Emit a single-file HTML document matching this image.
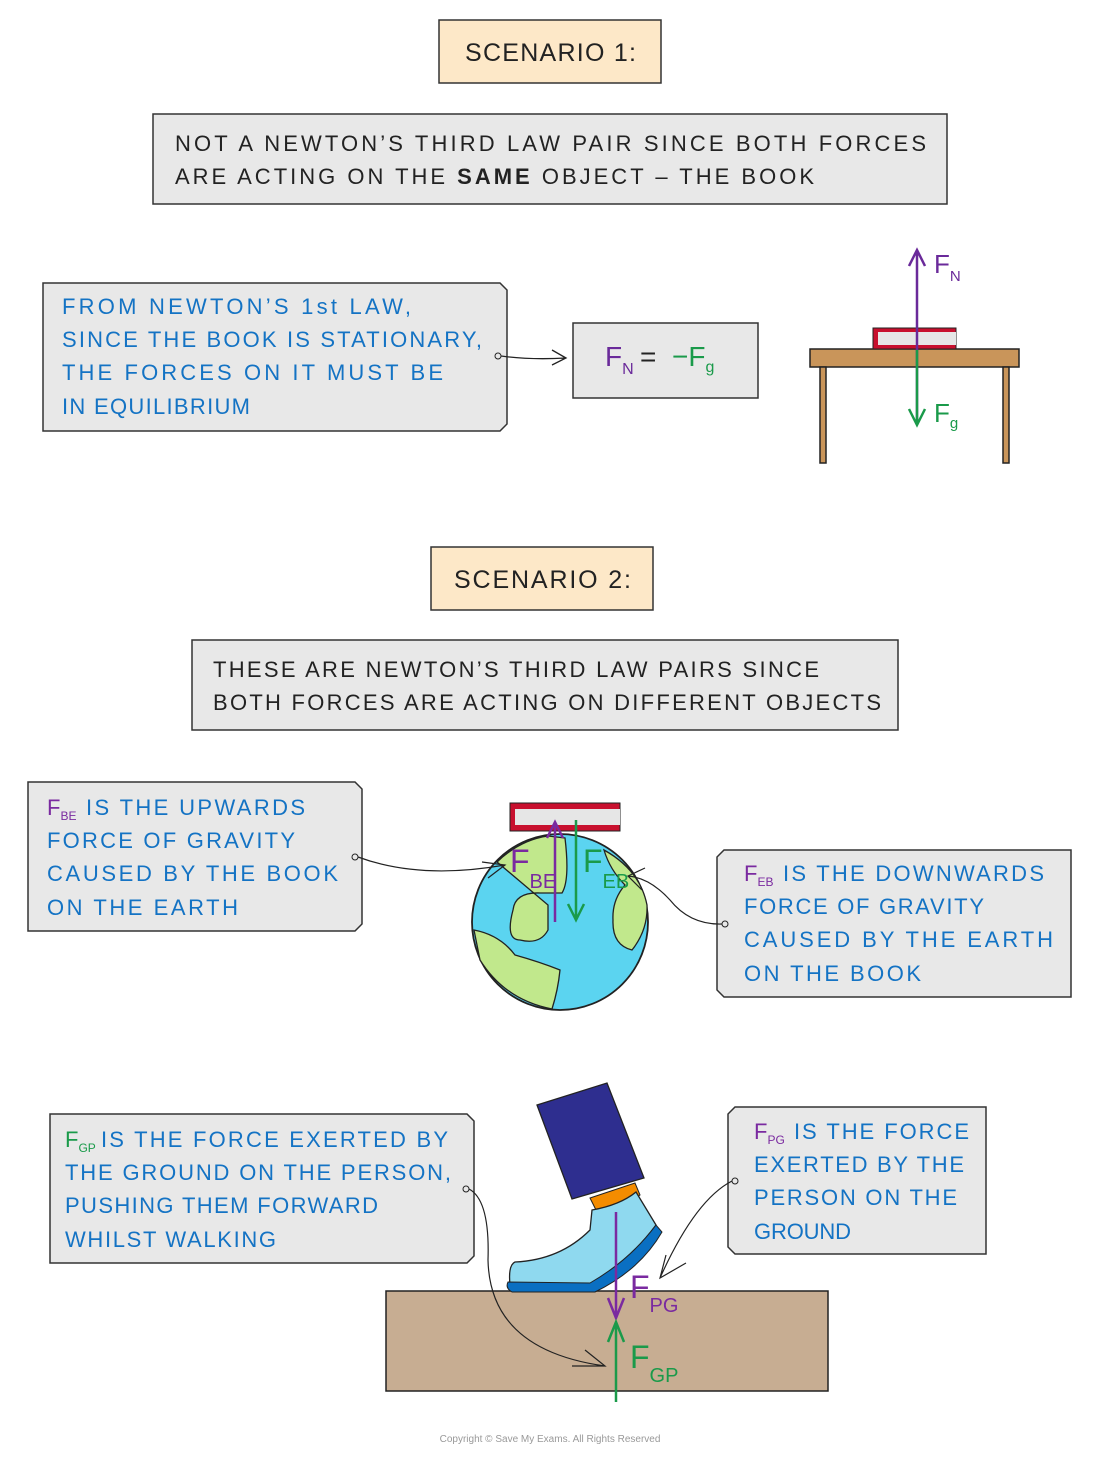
<!DOCTYPE html>
<html><head><meta charset="utf-8"><style>
html,body{margin:0;padding:0;background:#fff}
svg{display:block}
text{font-family:"Liberation Sans",sans-serif;font-size:22px;letter-spacing:1px}
.b{fill:#1473c4}.k{fill:#222}
.box{fill:#e8e8e8;stroke:#333;stroke-width:1.5}
.sc{fill:#fde8c8;stroke:#333;stroke-width:1.5}
</style></head><body>
<svg width="1100" height="1459" viewBox="0 0 1100 1459">
<!-- Scenario 1 -->
<rect class="sc" x="439" y="20" width="222" height="63"/>
<text class="k" x="465" y="61" style="font-size:25px" textLength="172" lengthAdjust="spacing">SCENARIO 1:</text>
<rect class="box" x="153" y="114" width="794" height="90"/>
<text class="k" x="175" y="151" textLength="752" lengthAdjust="spacing">NOT A NEWTON’S THIRD LAW PAIR SINCE BOTH FORCES</text>
<text class="k" x="175" y="184" textLength="640" lengthAdjust="spacing">ARE ACTING ON THE <tspan font-weight="bold">SAME</tspan> OBJECT – THE BOOK</text>

<path class="box" d="M43 283 H500 L507 290 V424 L500 431 H43 Z"/>
<text class="b" x="62" y="314" textLength="350" lengthAdjust="spacing">FROM NEWTON’S 1st LAW,</text>
<text class="b" x="62" y="347" textLength="421" lengthAdjust="spacing">SINCE THE BOOK IS STATIONARY,</text>
<text class="b" x="62" y="380" textLength="382" lengthAdjust="spacing">THE FORCES ON IT MUST BE</text>
<text class="b" x="62" y="414" textLength="189" lengthAdjust="spacing">IN EQUILIBRIUM</text>
<circle cx="498" cy="356" r="3" fill="none" stroke="#222"/>
<path d="M501 356 Q530 360 566 358 M552 350 L566 358 L552 365" fill="none" stroke="#222" stroke-width="1.3"/>
<rect class="box" x="573" y="323" width="185" height="75"/>
<text style="font-size:28px;letter-spacing:0" x="605" y="366" fill="#6a2a9a">F<tspan style="font-size:16px" dy="8">N</tspan></text>
<text style="font-size:28px" x="640" y="366" fill="#222">=</text>
<text style="font-size:28px;letter-spacing:0" x="672" y="366" fill="#1a9a4a">−F<tspan style="font-size:16px" dy="6">g</tspan></text>

<!-- table -->
<rect x="810" y="349" width="209" height="18" fill="#c9955a" stroke="#222" stroke-width="1.5"/>
<rect x="820" y="367" width="6" height="96" fill="#c9955a" stroke="#222" stroke-width="1.5"/>
<rect x="1003" y="367" width="6" height="96" fill="#c9955a" stroke="#222" stroke-width="1.5"/>
<rect x="873" y="328" width="83" height="21" fill="#c8102e" stroke="#222"/>
<rect x="878" y="332" width="78" height="13" fill="#e6e6e6"/>
<path d="M917 425 V250 M909 266 L917 250 L925 266" stroke="#6a2a9a" stroke-width="2.5" fill="none"/>
<path d="M917 350 V425 M909 409 L917 425 L925 409" stroke="#1a9a4a" stroke-width="2.5" fill="none"/>
<text style="font-size:26px;letter-spacing:0" x="934" y="273" fill="#6a2a9a">F<tspan style="font-size:15px" dy="8">N</tspan></text>
<text style="font-size:26px;letter-spacing:0" x="934" y="422" fill="#1a9a4a">F<tspan style="font-size:15px" dy="6">g</tspan></text>

<!-- Scenario 2 -->
<rect class="sc" x="431" y="547" width="222" height="63"/>
<text class="k" x="454" y="588" style="font-size:25px" textLength="178" lengthAdjust="spacing">SCENARIO 2:</text>
<rect class="box" x="192" y="640" width="706" height="90"/>
<text class="k" x="213" y="677" textLength="607" lengthAdjust="spacing">THESE ARE NEWTON’S THIRD LAW PAIRS SINCE</text>
<text class="k" x="213" y="710" textLength="669" lengthAdjust="spacing">BOTH FORCES ARE ACTING ON DIFFERENT OBJECTS</text>

<path class="box" d="M28 782 H355 L362 789 V924 L355 931 H28 Z"/>
<text x="47" y="815" fill="#7a2aa0" style="letter-spacing:0">F<tspan style="font-size:12px" dy="5">BE</tspan></text>
<text class="b" x="86" y="815" textLength="220" lengthAdjust="spacing">IS THE UPWARDS</text>
<text class="b" x="47" y="848" textLength="249" lengthAdjust="spacing">FORCE OF GRAVITY</text>
<text class="b" x="47" y="881" textLength="292" lengthAdjust="spacing">CAUSED BY THE BOOK</text>
<text class="b" x="47" y="915" textLength="192" lengthAdjust="spacing">ON THE EARTH</text>

<path class="box" d="M724 850 H1071 V997 H724 L717 990 V857 Z"/>
<text x="744" y="881" fill="#7a2aa0" style="letter-spacing:0">F<tspan style="font-size:12px" dy="5">EB</tspan></text>
<text class="b" x="783" y="881" textLength="262" lengthAdjust="spacing">IS THE DOWNWARDS</text>
<text class="b" x="744" y="914" textLength="241" lengthAdjust="spacing">FORCE OF GRAVITY</text>
<text class="b" x="744" y="947" textLength="310" lengthAdjust="spacing">CAUSED BY THE EARTH</text>
<text class="b" x="744" y="981" textLength="178" lengthAdjust="spacing">ON THE BOOK</text>

<!-- globe -->
<circle cx="560" cy="922" r="88" fill="#5bd4f0" stroke="#222" stroke-width="1.8"/>
<path d="M497 862 Q520 840 548 836 L565 838 Q570 880 562 893 L540 893 Q515 892 513 910 Q505 940 520 940 Q540 945 548 930 V905 Z" fill="#c1e88c" stroke="#222" stroke-width="1.3"/>
<path d="M604 850 Q640 870 647 905 Q648 930 632 950 Q612 945 613 920 Q612 900 625 885 Q610 870 604 850 Z" fill="#c1e88c" stroke="#222" stroke-width="1.3"/>
<path d="M474 930 Q500 935 515 955 Q540 962 560 970 Q558 990 552 1009 Q505 1000 480 960 Z" fill="#c1e88c" stroke="#222" stroke-width="1.3"/>
<rect x="510" y="803" width="110" height="28" fill="#c8102e" stroke="#222"/>
<rect x="515" y="809" width="105" height="16" fill="#e6e6e6"/>
<path d="M555 922 V822 M547 838 L555 822 L563 838" stroke="#7a2aa0" stroke-width="2.5" fill="none"/>
<path d="M576 820 V920 M568 904 L576 920 L584 904" stroke="#1a9a4a" stroke-width="2.5" fill="none"/>
<text x="510" y="872" style="font-size:32px;letter-spacing:0" fill="#7a2aa0">F<tspan style="font-size:20px" dy="16">BE</tspan></text>
<text x="583" y="872" style="font-size:32px;letter-spacing:0" fill="#1a9a4a">F<tspan style="font-size:20px" dy="16">EB</tspan></text>
<circle cx="355" cy="857" r="3" fill="none" stroke="#222"/>
<path d="M358 857 Q420 880 505 865 M482 862 L505 865 L488 878" fill="none" stroke="#222" stroke-width="1.2"/>
<circle cx="725" cy="924" r="3" fill="none" stroke="#222"/>
<path d="M722 924 Q690 925 670 900 Q650 878 628 876 M645 868 L628 876 L642 890" fill="none" stroke="#222" stroke-width="1.2"/>

<!-- foot scene -->
<path class="box" d="M50 1114 H467 L474 1121 V1256 L467 1263 H50 Z"/>
<text x="65" y="1147" fill="#1a9a4a" style="letter-spacing:0">F<tspan style="font-size:12px" dy="5">GP</tspan></text>
<text class="b" x="101" y="1147" textLength="348" lengthAdjust="spacing">IS THE FORCE EXERTED BY</text>
<text class="b" x="65" y="1180" textLength="387" lengthAdjust="spacing">THE GROUND ON THE PERSON,</text>
<text class="b" x="65" y="1213" textLength="314" lengthAdjust="spacing">PUSHING THEM FORWARD</text>
<text class="b" x="65" y="1247" textLength="212" lengthAdjust="spacing">WHILST WALKING</text>

<path class="box" d="M735 1107 H986 V1254 H735 L728 1247 V1114 Z"/>
<text x="754" y="1139" fill="#7a2aa0" style="letter-spacing:0">F<tspan style="font-size:12px" dy="5">PG</tspan></text>
<text class="b" x="794" y="1139" textLength="176" lengthAdjust="spacing">IS THE FORCE</text>
<text class="b" x="754" y="1172" textLength="211" lengthAdjust="spacing">EXERTED BY THE</text>
<text class="b" x="754" y="1205" textLength="204" lengthAdjust="spacing">PERSON ON THE</text>
<text class="b" x="754" y="1239" textLength="98" lengthAdjust="spacing">GROUND</text>

<rect x="386" y="1291" width="442" height="100" fill="#c7ad92" stroke="#222" stroke-width="1.5"/>
<path d="M537 1105 L607 1083 L644 1178 L572 1199 Z" fill="#2e2e8f" stroke="#222" stroke-width="1.3"/>
<path d="M590 1198 L635 1183 L640 1195 Q620 1210 596 1210 Z" fill="#f48c00" stroke="#222"/>
<path d="M592 1210 Q620 1205 636 1192 L656 1225 Q630 1260 590 1285 L510 1285 Q508 1265 515 1262 Q560 1260 590 1230 Z" fill="#8fd9ef" stroke="#222" stroke-width="1.3"/>
<path d="M508 1282 L590 1283 Q630 1260 656 1225 L662 1232 Q640 1270 595 1292 L512 1292 Q505 1288 508 1282 Z" fill="#0a6fc2" stroke="#222"/>
<path d="M616 1212 V1318 M608 1298 L616 1318 L624 1298" stroke="#7a2aa0" stroke-width="2.5" fill="none"/>
<path d="M616 1402 V1322 M608 1342 L616 1322 L624 1342" stroke="#1a9a4a" stroke-width="2.5" fill="none"/>
<text x="630" y="1298" style="font-size:32px;letter-spacing:0" fill="#7a2aa0">F<tspan style="font-size:20px" dy="14">PG</tspan></text>
<text x="630" y="1368" style="font-size:32px;letter-spacing:0" fill="#1a9a4a">F<tspan style="font-size:20px" dy="14">GP</tspan></text>
<circle cx="466" cy="1189" r="3" fill="none" stroke="#222"/>
<path d="M469 1189 Q490 1200 488 1260 Q490 1350 605 1366 M585 1350 L605 1366 L572 1366" fill="none" stroke="#222" stroke-width="1.2"/>
<circle cx="735" cy="1181" r="3" fill="none" stroke="#222"/>
<path d="M732 1181 Q695 1200 660 1278 M666 1255 L660 1278 L686 1263" fill="none" stroke="#222" stroke-width="1.2"/>

<text x="550" y="1442" text-anchor="middle" style="font-size:10px;letter-spacing:0" fill="#999">Copyright © Save My Exams. All Rights Reserved</text>
</svg>
</body></html>
